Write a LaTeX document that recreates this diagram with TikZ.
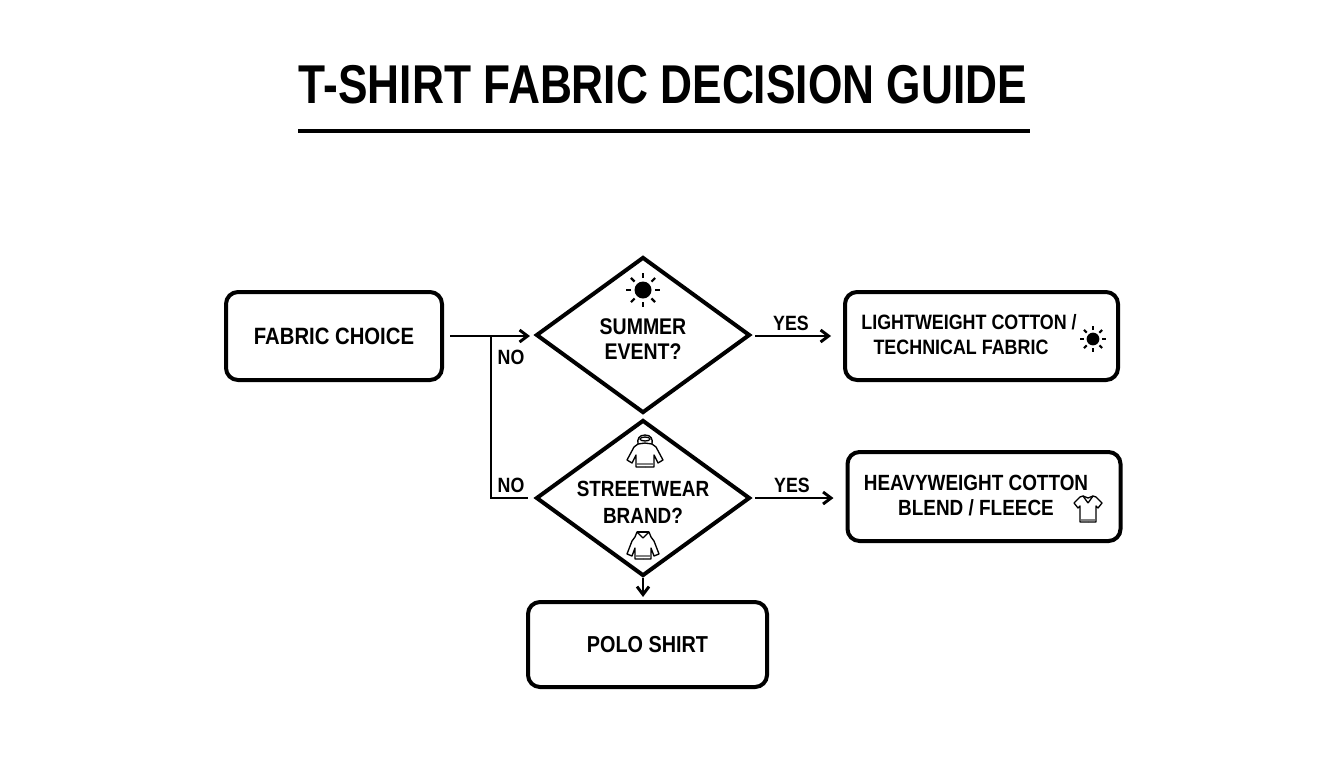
\documentclass[tikz,border=0pt]{standalone}
\usepackage{fontspec}
\setmainfont[FakeStretch=0.86]{Liberation Sans}
\newfontfamily\titlefamily[FakeStretch=0.81]{Liberation Sans}
\usetikzlibrary{shapes.geometric,arrows.meta}
\tikzset{
  flowbox/.style={draw,line width=3pt,rounded corners=9pt,inner sep=0pt},
  flowdiamond/.style={draw,diamond,shape aspect=1.37,line width=3pt,inner sep=0pt,minimum width=214\pxu,minimum height=156\pxu},
  boxtext/.style={font=\boxfont,align=center,inner sep=0pt},
  flowlabel/.style={font=\labelfont,inner sep=0pt},
  flowline/.style={line width=2.2pt},
  flowarrow/.style={flowline,-{Straight Barb[length=6pt,width=9pt,line width=2.2pt]}},
  sunicon/.pic={
    \fill (0,0) circle (8.5);
    \foreach \ang in {0,45,...,315}
      \draw[line width=1.6pt] (\ang:12) -- (\ang:17);
  },
  hoodicon/.pic={
    \foreach \side in {1,-1} {
      \draw[line width=1pt,line join=round,xscale=\side] (0,-16) .. controls (6,-16) and (8,-12) .. (7,-7)
        -- (11,-4) -- (18,9) -- (13,12) -- (9,4) -- (9,16) -- (0,16);
      \draw[line width=1pt,xscale=\side] (0,-8) -- (7,-7);
    }
    \draw[line width=1pt] (0,-12) ellipse (5 and 2);
    \draw[line width=1.5pt,gray] (-8,13) -- (8,13);
  },
  sweaticon/.pic={
    \foreach \side in {1,-1} {
      \draw[line width=1pt,line join=round,xscale=\side] (0,-7) -- (6,-13) -- (8,-8) -- (11,-4) -- (16,9) -- (11,11) -- (8,3) -- (8,14) -- (0,14);
      \draw[line width=1pt,xscale=\side] (0,-13) -- (6,-13);
    }
    \draw[line width=1.5pt,gray] (-7,11) -- (7,11);
  },
  teeicon/.pic={
    \foreach \side in {1,-1} {
      \draw[line width=1pt,line join=round,xscale=\side] (0,-6) -- (5,-13) -- (8,-12) -- (14,-6) -- (10,-1) -- (8,-3) -- (8,13) -- (0,13);
      \draw[line width=1pt,xscale=\side] (0,-11) -- (5,-13);
    }
    \draw[line width=1.5pt,gray] (-7,11) -- (7,11);
  }
}
\newlength{\pxu}
\setlength{\pxu}{0.75pt}
\newcommand{\boxfont}{\fontsize{16.5}{18.75}\bfseries\selectfont}
\newcommand{\labelfont}{\fontsize{15.5}{18}\bfseries\selectfont}
\begin{document}
\begin{tikzpicture}[x=0.75pt,y=-0.75pt]
  \useasboundingbox (0,0) rectangle (1344,768);
  % title
  \node[font=\titlefamily\fontsize{41}{48}\bfseries\selectfont,inner sep=0pt] (title) at (663,85) {T-SHIRT FABRIC DECISION GUIDE};
  \draw[line width=3.4pt] (298,131) -- (1030,131);
  % boxes
  \node[flowbox,minimum width=216\pxu,minimum height=88\pxu,boxtext,font=\fontsize{17.7}{20}\bfseries\selectfont] (fabric) at (334,336) {FABRIC CHOICE};
  \node[flowbox,minimum width=273\pxu,minimum height=88\pxu] (technical) at (981.5,336) {};
  \node[flowbox,minimum width=273\pxu,minimum height=89\pxu] (heavy) at (984,496.5) {};
  \node[flowbox,minimum width=239\pxu,minimum height=85\pxu,boxtext,font=\fontsize{17.3}{20}\bfseries\selectfont] (polo) at (647.5,644.5) {POLO SHIRT};
  \node[boxtext,font=\fontsize{15.6}{18.75}\bfseries\selectfont] (technicaltext) at (969,335) {LIGHTWEIGHT COTTON /\\[0pt]\hspace*{-16\pxu}TECHNICAL FABRIC};
  \node[boxtext] (heavytext) at (976,496) {HEAVYWEIGHT COTTON\\BLEND / FLEECE};
  % diamonds
  \node[flowdiamond] (summer) at (643,335) {};
  \node[flowdiamond] (street) at (643,498) {};
  \node[boxtext,font=\fontsize{17}{18.75}\bfseries\selectfont] (summertext) at (643,339.5) {SUMMER\\EVENT?};
  \node[boxtext] (streettext) at (643,502.5) {STREETWEAR\\[1.5pt]BRAND?};
  % icons
  \pic at (643,290) {sunicon};
  \pic[scale=0.75] at (1093,339) {sunicon};
  \pic at (645,451) {hoodicon};
  \pic at (643,545) {sweaticon};
  \pic at (1088,509) {teeicon};
  % connectors
  \coordinate (split) at (491,336);
  \draw[flowarrow,shorten <=6\pxu,shorten >=4\pxu] (fabric.east) -- (fabric.east -| summer.west);
  \draw[flowline,shorten >=6\pxu] (split) |- (street.west);
  \draw[flowarrow,shorten <=3\pxu,shorten >=12\pxu] (technical.west -| summer.east) -- (technical.west);
  \draw[flowarrow,shorten <=3\pxu,shorten >=12\pxu] (street.east) -- (street.east -| heavy.west);
  \draw[flowarrow,shorten >=3\pxu] (street.south) -- (polo.north -| street.south);
  % labels
  \node[flowlabel] (nosummer) at (511,357) {NO};
  \node[flowlabel] (nostreet) at (511,485) {NO};
  \node[flowlabel] (yessummer) at (791,323) {YES};
  \node[flowlabel] (yesstreet) at (792,485) {YES};
\end{tikzpicture}
\end{document}
